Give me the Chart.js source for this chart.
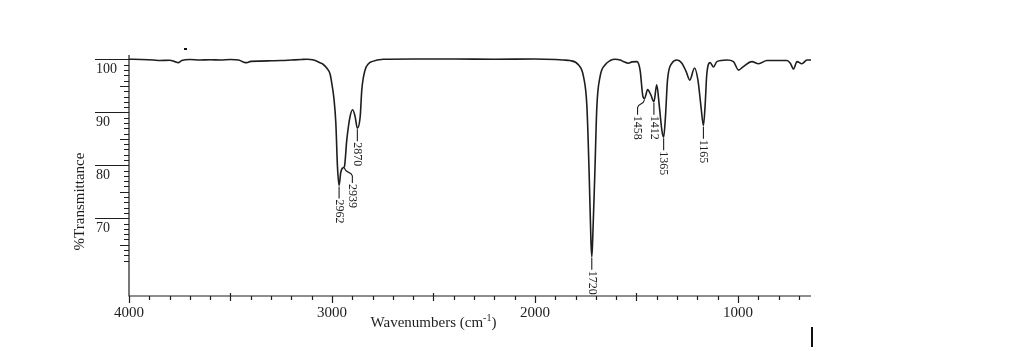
<!DOCTYPE html>
<html>
<head>
<meta charset="utf-8">
<script src="https://cdn.jsdelivr.net/npm/chart.js@4"></script>
<style>
  html, body { margin: 0; padding: 0; background: #fff; }
  #wrap { position: relative; width: 1024px; height: 360px; }
  .speck { position: absolute; background: #111; }
</style>
</head>
<body>
<div id="wrap">
  <canvas id="irChart" width="1024" height="360"></canvas>
  <div class="speck" style="left:184px;top:48px;width:3px;height:2px;"></div>
  <div class="speck" style="left:811px;top:327px;width:2px;height:20px;"></div>
</div>
<script>
// spectrum (cm-1, %T)
const wavenumbers = [
  4000, 3940, 3880, 3847, 3800, 3775, 3758, 3740, 3700, 3650, 3600, 3550, 3500, 3460, 3435, 3420,
  3400, 3355, 3300, 3250, 3200, 3150, 3124, 3090, 3059, 3044, 3026, 3009, 3001, 2990, 2981, 2973,
  2965, 2957, 2947, 2939, 2927, 2911, 2898, 2886, 2875, 2861, 2853, 2837, 2820, 2804, 2747, 2600,
  2400, 2200, 2000, 1900, 1860, 1827, 1786, 1761, 1744, 1733, 1724, 1720, 1716, 1705, 1695, 1679,
  1654, 1629, 1605, 1580, 1564, 1539, 1522, 1498, 1482, 1468, 1460, 1445, 1429, 1414, 1400, 1387,
  1375, 1366, 1357, 1347, 1325, 1301, 1276, 1255, 1237, 1214, 1197, 1182, 1170, 1162, 1153, 1137,
  1120, 1104, 1054, 1022, 997, 975, 931, 898, 857, 759, 742, 726, 709, 685, 660, 640
];
const transmittance = [
  100.05, 100.0, 99.9, 99.8, 99.85, 99.6, 99.4, 99.8, 100.0, 99.9, 99.95, 99.9, 100.0, 99.9, 99.5, 99.4,
  99.65, 99.7, 99.75, 99.8, 99.9, 100.0, 100.05, 99.9, 99.4, 99.1, 98.4, 97.2, 95.5, 92.5, 88.0, 79.8,
  76.2, 78.6, 79.5, 79.7, 84.8, 89.2, 90.5, 89.2, 87.0, 89.2, 94.3, 98.0, 99.2, 99.6, 100.05, 100.1,
  100.1, 100.05, 100.1, 100.0, 99.9, 99.8, 99.0, 96.8, 91.1, 78.5, 65.5, 62.7, 65.5, 78.5, 91.1, 96.8,
  99.0, 99.8, 100.05, 99.9, 99.6, 99.3, 99.55, 99.6, 98.0, 93.0, 92.6, 94.3, 93.3, 92.0, 95.2, 91.1,
  86.7, 85.3, 89.2, 96.1, 99.3, 99.9, 99.3, 97.7, 96.1, 98.4, 96.1, 91.1, 87.5, 91.1, 97.4, 99.4,
  98.6, 99.6, 99.9, 99.6, 98.0, 98.6, 99.6, 99.2, 99.8, 99.8, 99.3, 98.2, 99.6, 99.2, 99.9, 99.9
];

// peak annotations
const peakLabels = ['2962', '2939', '2870', '1720', '1458', '1412', '1365', '1165'];
const peakWavenumbers = [2965, 2939, 2875, 1720, 1460, 1414, 1366, 1170];
const peakTransmittance = [76.2, 79.7, 87.0, 62.7, 92.6, 92.0, 85.3, 87.5];

const xTickLabels = [4000, 3000, 2000, 1000];
const yTickLabels = [70, 80, 90, 100];

const SERIF = '"Liberation Serif", "DejaVu Serif", serif';
const INK = '#1e1e1e';

const axisPlugin = {
    id: 'irAxes',
    afterDraw(chart) {
        const ctx = chart.ctx;
        const area = chart.chartArea;
        const xs = chart.scales.x;
        const ys = chart.scales.y;
        ctx.save();
        ctx.strokeStyle = INK;
        ctx.fillStyle = INK;
        ctx.lineWidth = 1.2;

        // frame (left + bottom only)
        ctx.beginPath();
        ctx.moveTo(area.left, area.top);
        ctx.lineTo(area.left, area.bottom);
        ctx.lineTo(area.right, area.bottom);
        ctx.stroke();

        // x ticks every 100
        ctx.beginPath();
        for (let w = 4000; w >= xs.min; w -= 100) {
            const px = Math.round(xs.getPixelForValue(w)) + 0.5;
            let top = area.bottom, len = 4;
            if (w % 1000 === 0) { len = 7; }
            else if (w % 500 === 0) { top = area.bottom - 3; len = 5; }
            ctx.moveTo(px, top);
            ctx.lineTo(px, area.bottom + len);
        }
        ctx.stroke();

        ctx.font = '15px ' + SERIF;
        ctx.textAlign = 'center';
        ctx.textBaseline = 'alphabetic';
        xTickLabels.forEach(v => {
            ctx.fillText(String(v), xs.getPixelForValue(v), area.bottom + 21);
        });

        // y ticks every 1 %T, from 62 up to 100
        ctx.beginPath();
        for (let t = 62; t <= 100; t++) {
            const py = Math.round(ys.getPixelForValue(t)) + 0.5;
            let len = 5;
            if (t % 10 === 0) len = 34;
            else if (t % 5 === 0) len = 9;
            ctx.moveTo(area.left - len, py);
            ctx.lineTo(area.left, py);
        }
        ctx.stroke();

        ctx.font = '14px ' + SERIF;
        ctx.textAlign = 'left';
        yTickLabels.forEach(v => {
            ctx.fillText(String(v), area.left - 33, ys.getPixelForValue(v) + 14);
        });

        // x title with superscript
        const cx = xs.getPixelForValue(2500);
        const baseY = area.bottom + 31;
        ctx.font = '15px ' + SERIF;
        const partA = 'Wavenumbers (cm';
        const partC = ')';
        const wA = ctx.measureText(partA).width;
        const wC = ctx.measureText(partC).width;
        ctx.font = '10px ' + SERIF;
        const wB = ctx.measureText('-1').width;
        let sx = cx - (wA + wB + wC) / 2;
        ctx.font = '15px ' + SERIF;
        ctx.fillText(partA, sx, baseY);
        ctx.font = '10px ' + SERIF;
        ctx.fillText('-1', sx + wA, baseY - 6);
        ctx.font = '15px ' + SERIF;
        ctx.fillText(partC, sx + wA + wB, baseY);

        // y title
        ctx.save();
        ctx.translate(area.left - 45, (area.top + area.bottom) / 2 + 26);
        ctx.rotate(-Math.PI / 2);
        ctx.textAlign = 'center';
        ctx.fillText('%Transmittance', 0, 0);
        ctx.restore();

        ctx.restore();
    }
};

const peakPlugin = {
    id: 'peakMarks',
    afterDatasetsDraw(chart, args, opts) {
        const ctx = chart.ctx;
        const xs = chart.scales.x;
        const ys = chart.scales.y;
        ctx.save();
        ctx.strokeStyle = INK;
        ctx.fillStyle = INK;
        ctx.lineWidth = 1.1;
        ctx.font = '12px ' + SERIF;
        ctx.textAlign = 'left';
        ctx.textBaseline = 'middle';
        peakLabels.forEach((label, i) => {
            const px = xs.getPixelForValue(peakWavenumbers[i]);
            const py = ys.getPixelForValue(peakTransmittance[i]);
            const shift = opts.nudge[label] || 0;
            let textTop;
            ctx.beginPath();
            if (shift) {
                ctx.moveTo(px, py + 1);
                ctx.bezierCurveTo(px + shift * 0.2, py + 7, px + shift * 0.8, py + 4, px + shift, py + 9);
                ctx.lineTo(px + shift, py + 16);
                textTop = py + 16;
            } else {
                ctx.moveTo(px, py + 1);
                ctx.lineTo(px, py + 13);
                textTop = py + 13;
            }
            ctx.stroke();
            ctx.save();
            ctx.translate(px + shift, textTop + 1);
            ctx.rotate(Math.PI / 2);
            ctx.fillText(label, 0, 0);
            ctx.restore();
        });
        ctx.restore();
    }
};

function renderSpectrum() {
    const ctx = document.getElementById('irChart').getContext('2d');
    const points = wavenumbers.map((w, i) => ({ x: w, y: transmittance[i] }));

    new Chart(ctx, {
        type: 'line',
        data: {
            datasets: [{
                data: points,
                borderColor: INK,
                borderWidth: 1.6,
                pointRadius: 0,
                fill: false,
                cubicInterpolationMode: 'monotone'
            }]
        },
        options: {
            responsive: false,
            animation: false,
            layout: { padding: { left: 129, right: 213, top: 55, bottom: 64 } },
            plugins: {
                legend: { display: false },
                tooltip: { enabled: false },
                peakMarks: { nudge: { '2939': 8, '1458': -7 } }
            },
            scales: {
                x: { type: 'linear', reverse: true, min: 640, max: 4000, display: false },
                y: { min: 55.3, max: 100.85, display: false }
            }
        },
        plugins: [axisPlugin, peakPlugin]
    });
}

renderSpectrum();
</script>
</body>
</html>
